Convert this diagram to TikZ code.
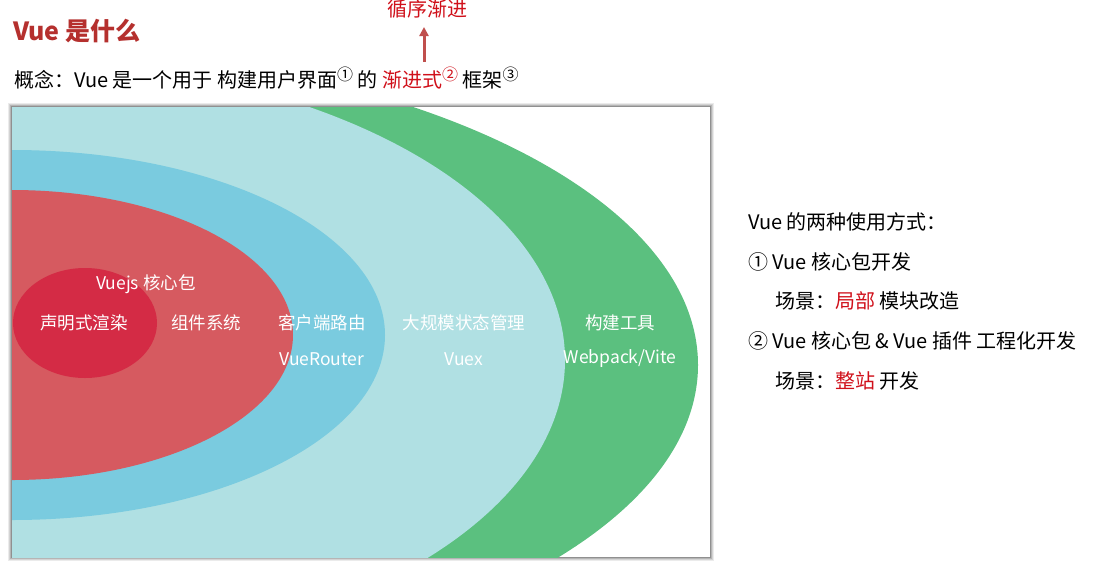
\documentclass[tikz,border=0pt]{standalone}
\usepackage{fontspec}
\setmainfont{Noto Sans CJK SC}
\usetikzlibrary{arrows.meta}
\definecolor{vred}{HTML}{B5302E}
\definecolor{hl}{HTML}{D0101A}
\definecolor{cgreen}{HTML}{5BC07F}
\definecolor{clight}{HTML}{B0E0E3}
\definecolor{cblue}{HTML}{7ACBDF}
\definecolor{cred}{HTML}{D65A60}
\definecolor{cdark}{HTML}{D42B45}
\newcommand{\circsup}[1]{\raisebox{7pt}{\fontsize{16}{18}\selectfont #1}}
\tikzset{lab/.style={text=white,font=\fontsize{17.5}{20}\selectfont,inner sep=0pt},
 rt/.style={anchor=west,font=\fontsize{20}{23}\selectfont,inner sep=0pt}}
\begin{document}
\begin{tikzpicture}[x=1pt,y=-1pt]
\useasboundingbox (0,0) rectangle (1099,568);
\fill[white] (0,0) rectangle (1099,568);
% shadow
\foreach \i/\o in {4/0.08,3/0.1,2/0.14,1/0.2}{\fill[black,opacity=\o] (12-\i,107-\i) rectangle (710+\i,557+\i);}
\fill[white] (12,107) rectangle (710,557);
\begin{scope}
\clip (12,107) rectangle (710,557);
\fill[cgreen] (12,365) ellipse [x radius=686, y radius=318];
\fill[clight] (12,360) ellipse [x radius=553, y radius=300];
\fill[cblue] (12,335) ellipse [x radius=373, y radius=185];
\fill[cred] (12,335) ellipse [x radius=281, y radius=145];
\fill[cdark] (85,323) ellipse [x radius=72, y radius=55];
\end{scope}
\node[lab] (a) at (146,284) {Vuejs 核心包};
\node[lab] (b) at (84,323) {声明式渲染};
\node[lab] (c) at (206,323) {组件系统};
\node[lab] (d) at (322,323) {客户端路由};
\node[lab] (d2) at (322,359) {VueRouter};
\node[lab] (e) at (464,323) {大规模状态管理};
\node[lab] (e2) at (464,359) {Vuex};
\node[lab] (f) at (620,323) {构建工具};
\node[lab] (f2) at (620,359) {Webpack/Vite};
% title
\node[anchor=west,inner sep=0pt,text=vred,font=\fontsize{25}{29}\selectfont\bfseries] (t) at (13,31) {Vue 是什么};
\node[anchor=west,inner sep=0pt,font=\fontsize{20}{23}\selectfont] (l) at (14,78) {概念：Vue 是一个用于 构建用户界面\circsup{①} 的 \textcolor{hl}{渐进式\circsup{②}} 框架\circsup{③}};
\node[inner sep=0pt,text=hl,font=\fontsize{20}{23}\selectfont] (g) at (427,9) {循序渐进};
\coordinate (s) at (424,62);
\draw[-{Triangle[length=9pt,width=9pt]},line width=3pt,color=vred!85] (s) -- (424,27);
% right
\node[rt] (r1) at (748,222) {Vue 的两种使用方式：};
\node[rt] (r2) at (748,262) {① Vue 核心包开发};
\node[rt] (r3) at (775,301) {场景：\textcolor{hl}{局部} 模块改造};
\node[rt] (r4) at (748,341) {② Vue 核心包 \& Vue 插件 工程化开发};
\node[rt] (r5) at (775,381) {场景：\textcolor{hl}{整站} 开发};
\end{tikzpicture}
\end{document}
